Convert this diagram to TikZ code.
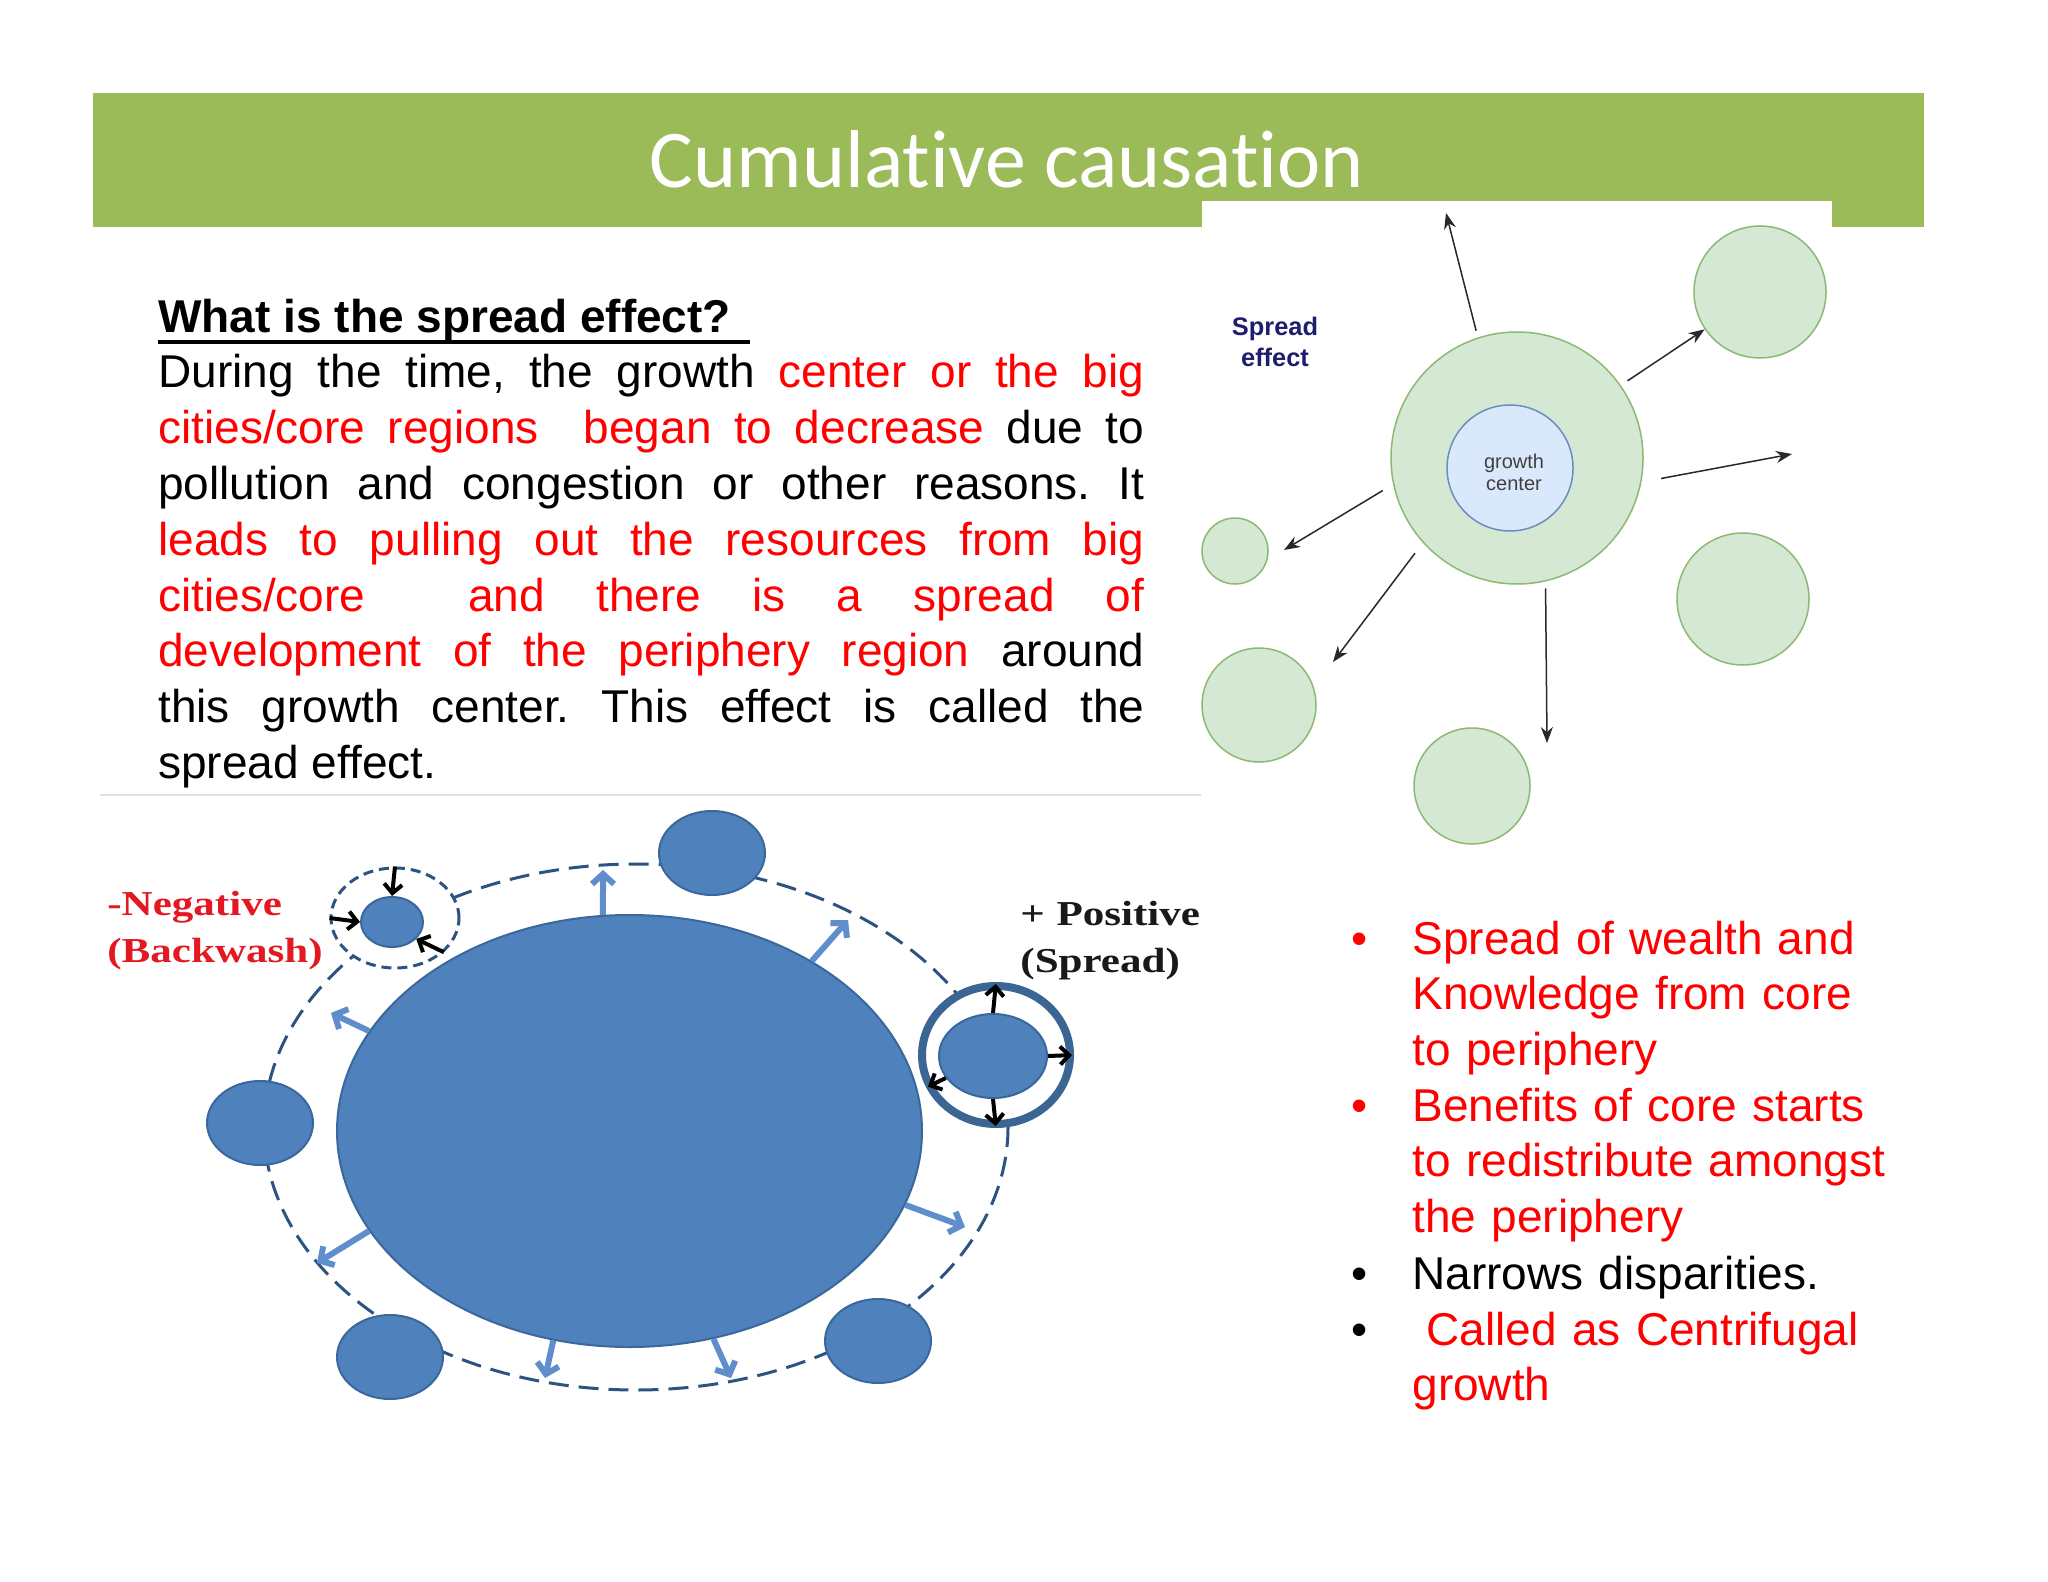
\documentclass[tikz,border=0pt]{standalone}
\usepackage{fontspec}
\setmainfont{Liberation Sans}
\newfontfamily\titlefont[Ligatures=NoCommon]{Carlito}
\newfontfamily\labelfont[FakeStretch=1.23]{Liberation Serif}
\usetikzlibrary{shapes.geometric,arrows.meta}
\tolerance=10000
\hbadness=10000
\hyphenpenalty=10000
\frenchspacing

\definecolor{barcolor}{RGB}{155,187,89}
\definecolor{hlred}{RGB}{255,0,0}
\definecolor{negred}{RGB}{228,24,32}
\definecolor{navytext}{RGB}{30,30,110}
\definecolor{zonefill}{RGB}{213,232,212}
\definecolor{zoneline}{RGB}{140,185,115}
\definecolor{centrefill}{RGB}{218,232,252}
\definecolor{centreline}{RGB}{108,142,191}
\definecolor{townfill}{RGB}{79,129,189}
\definecolor{townline}{RGB}{58,103,156}
\definecolor{orbitblue}{RGB}{44,84,131}
\definecolor{ringblue}{RGB}{59,101,147}
\definecolor{flowblue}{RGB}{96,142,204}
\definecolor{arrowgray}{RGB}{40,40,40}

\newcommand{\redtext}[1]{\textcolor{hlred}{#1}}
\newcommand{\bodysize}{\fontsize{23}{27.9}\selectfont}

\tikzset{
  zone/.style={circle, draw=zoneline, fill=zonefill, line width=0.75pt, inner sep=0pt},
  town/.style={ellipse, draw=townline, fill=townfill, line width=1pt, inner sep=0pt},
  spreadarrow/.style={-{Stealth[length=8pt,width=6pt]}, draw=arrowgray, line width=0.75pt},
  flowarrow/.style={-{Straight Barb[length=5pt,width=11pt]}, draw=flowblue, line width=3pt},
  pusharrow/.style={-{Straight Barb[length=4.5pt,width=9pt]}, draw=black, line width=2pt},
  bullettext/.style={anchor=base west, inner sep=0pt, text width=260pt, align=left, font=\bodysize},
}

\begin{document}
\begin{tikzpicture}[x=0.5pt,y=0.5pt,yscale=-1,xscale=1]
\useasboundingbox (0,0) rectangle (2048,1582);
\fill[white] (0,0) rectangle (2048,1582);

%Shape: title bar
\fill[barcolor] (93,93) rectangle (1924,227);
%Shape: picture panel top right
\fill[white] (1202,201) rectangle (1832,860);
%Straight Lines: edge of picture panel bottom left
\draw[black!12, line width=1pt] (100,795) -- (1201,795);

% Text Node
\draw (1007,188) node (title) [anchor=base, inner sep=0pt, text=white, font=\titlefont\fontsize{41}{49}\selectfont] {Cumulative causation};

% Text Node
\draw (158,333) node (head) [anchor=base west, inner sep=0pt, font=\bodysize\bfseries] {What is the spread effect?};
\draw[line width=2pt] (head.base west) ++(0,9) -- ++(592,0);
% Text Node
\draw (158,388) node (body) [anchor=base west, inner sep=0pt, text width=493pt, align=justify, font=\bodysize] {During the time, the growth \redtext{center or the big}\linebreak \redtext{cities/core regions\ \ began to decrease} due to\linebreak pollution and congestion or other reasons. It\linebreak \redtext{leads to pulling out the resources from big}\linebreak \redtext{cities/core\ \ and there is a spread of}\linebreak \redtext{development of the periphery region} around\linebreak this growth center. This effect is called the\linebreak spread effect.};

%Shape: spread effect circles
\draw (1517,458) node (spread) [zone, minimum size=126pt] {};
\draw (1510,468) node (centre) [circle, draw=centreline, fill=centrefill, line width=0.75pt, inner sep=0pt, minimum size=63pt] {};
\draw (1760,292) node (zoneNE) [zone, minimum size=66pt] {};
\draw (1235,551) node (zoneW) [zone, minimum size=33pt] {};
\draw (1259,705) node (zoneSW) [zone, minimum size=57pt] {};
\draw (1472,786) node (zoneS) [zone, minimum size=58pt] {};
\draw (1743,599) node (zoneE) [zone, minimum size=66pt] {};

% Text Node
\draw (1514,472) node (centrelabel) [inner sep=0pt, align=center, text=black!75, font=\fontsize{10}{11}\selectfont] {growth\\center};
% Text Node
\draw (1275,342) node (spreadlabel) [inner sep=0pt, align=center, text=navytext, font=\fontsize{12.7}{15.5}\selectfont\bfseries] {Spread\\effect};

%Arrows: spread effect
\coordinate (tipN) at (1446,213);
\coordinate (tipE) at (1792,454);
\coordinate (tipW) at (1284,550);
\coordinate (tipSW) at (1333,662);
\coordinate (tipS) at (1547,743);
\draw[spreadarrow, shorten <=3.5pt] (spread.108) -- (tipN);
\draw[spreadarrow, shorten <=4pt] (spread.35) -- (zoneNE.214);
\draw[spreadarrow, shorten <=10pt] (spread.-11) -- (tipE);
\draw[spreadarrow, shorten <=6pt] (spread.192) -- (tipW);
\draw[spreadarrow, shorten <=6.5pt] (spread.222) -- (tipSW);
\draw[spreadarrow, shorten <=3.5pt] (spread.283.5) -- (tipS);

%Shape: orbit
\draw[orbitblue, line width=1.5pt, dash pattern=on 10pt off 5pt] (636,1127) ellipse (372 and 263);

%Shape: core and towns
\draw (629.5,1131) node (core) [town, minimum width=292.5pt, minimum height=216pt] {};
\draw (712,853) node (townN) [town, minimum width=53pt, minimum height=42pt] {};
\draw (260,1123) node (townW) [town, minimum width=53pt, minimum height=42pt] {};
\draw (390,1357) node (townSW) [town, minimum width=53pt, minimum height=42pt] {};
\draw (878,1341) node (townSE) [town, minimum width=53pt, minimum height=42pt] {};

%Shape: backwash town
\draw (395,918) node (negring) [ellipse, draw=orbitblue, fill=white, line width=1.5pt, dash pattern=on 5pt off 3pt, inner sep=0pt, minimum width=64pt, minimum height=50pt] {};
\draw (392,922) node (negtown) [town, minimum width=31pt, minimum height=25pt] {};
%Shape: spread town
\draw (996,1055) node (posring) [ellipse, draw=ringblue, fill=white, line width=4pt, inner sep=0pt, minimum width=74pt, minimum height=69pt] {};
\draw (993,1056) node (postown) [town, minimum width=54pt, minimum height=42pt] {};

%Arrows: backwash
\draw[pusharrow] (negring.north) -- (negtown.north);
\draw[pusharrow] (negring.west) -- (negtown.west);
\draw[pusharrow] (negring.-35) -- (negtown.-35);
%Arrows: spread
\draw[pusharrow, shorten >=1pt] (postown.north) -- (posring.north);
\draw[pusharrow, shorten >=1pt] (postown.east) -- (posring.east);
\draw[pusharrow, shorten >=1pt] (postown.205) -- (posring.205);
\draw[pusharrow, shorten >=1pt] (postown.south) -- (posring.south);

%Arrows: core to orbit
\coordinate (flowA) at (603,870);
\coordinate (flowB) at (848,920);
\coordinate (flowC) at (331,1013);
\coordinate (flowD) at (965,1227);
\coordinate (flowE) at (317,1263);
\coordinate (flowF) at (545,1378);
\coordinate (flowG) at (731,1378);
\draw[flowarrow] (core.97) -- (flowA);
\draw[flowarrow] (core.43) -- (flowB);
\draw[flowarrow] (core.159.5) -- (flowC);
\draw[flowarrow] (core.-15) -- (flowD);
\draw[flowarrow] (core.201) -- (flowE);
\draw[flowarrow] (core.250) -- (flowF);
\draw[flowarrow] (core.292.5) -- (flowG);

% Text Node
\draw (107,915) node (neglabel) [anchor=base west, inner sep=0pt, text width=130pt, align=left, text=negred, font=\labelfont\bfseries\fontsize{17.5}{23.5}\selectfont] {-Negative\\(Backwash)};
% Text Node
\draw (1020,925) node (poslabel) [anchor=base west, inner sep=0pt, text width=110pt, align=left, text=black!90, font=\labelfont\bfseries\fontsize{17.5}{23.5}\selectfont] {+ Positive\\(Spread)};

%Bullets
\draw (1360,954) node (dotA) [anchor=base, inner sep=0pt, text=hlred, font=\bodysize] {•};
\draw (1412,954) node (itemA) [bullettext, text=hlred] {Spread of wealth and\\Knowledge from core\\to periphery};
\draw (1360,1121) node (dotB) [anchor=base, inner sep=0pt, text=hlred, font=\bodysize] {•};
\draw (1412,1121) node (itemB) [bullettext, text=hlred] {Benefits of core starts\\to redistribute amongst\\the periphery};
\draw (1360,1289) node (dotC) [anchor=base, inner sep=0pt, font=\bodysize] {•};
\draw (1412,1289) node (itemC) [bullettext] {Narrows disparities.};
\draw (1360,1345) node (dotD) [anchor=base, inner sep=0pt, font=\bodysize] {•};
\draw (1412,1345) node (itemD) [bullettext, text=hlred] {\hspace*{7pt}Called as Centrifugal\\growth};

\end{tikzpicture}
\end{document}
